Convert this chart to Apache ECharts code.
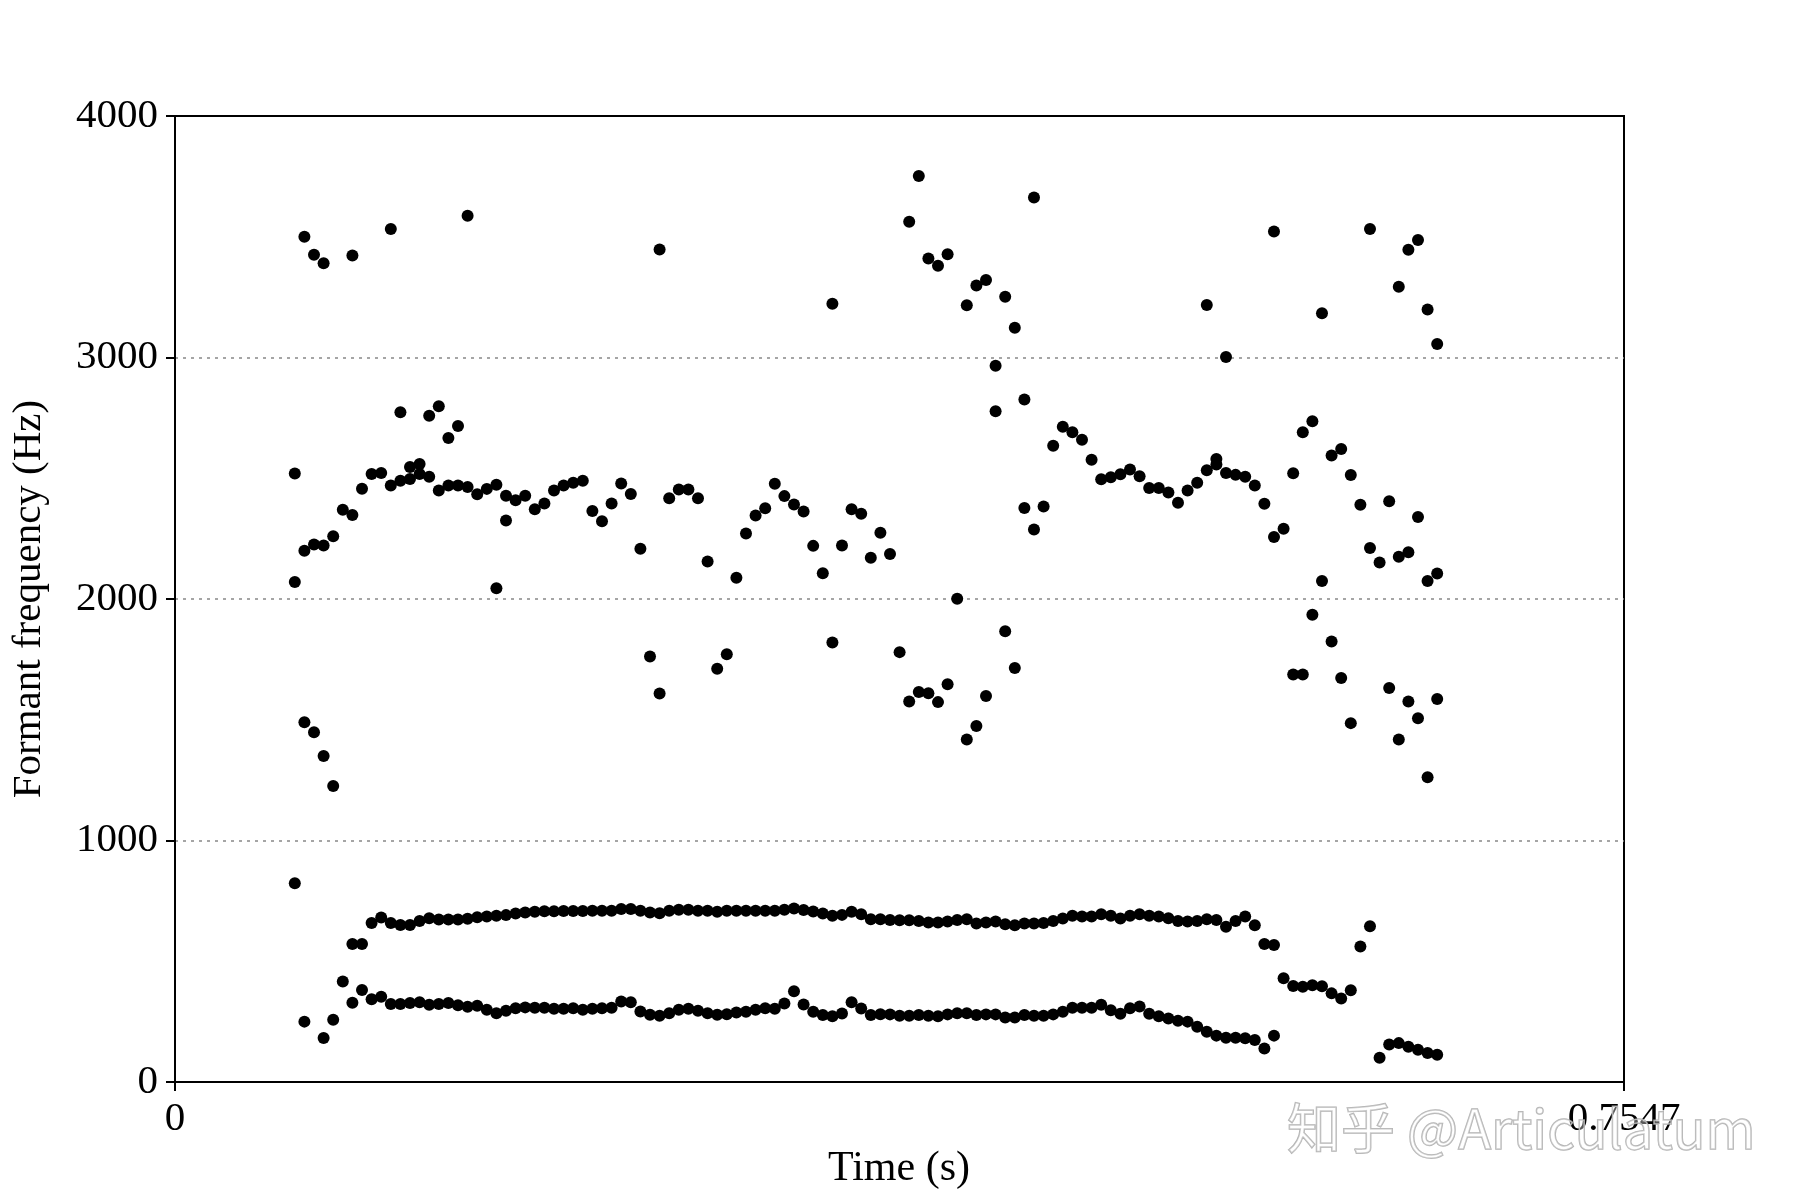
<!DOCTYPE html>
<html><head><meta charset="utf-8">
<script src="https://cdn.jsdelivr.net/npm/echarts@6/dist/echarts.min.js"></script>
<style>html,body{margin:0;padding:0;background:#fff}#c{width:1800px;height:1200px}</style>
</head><body><div id="c"></div>
<script>
// Frame times (s)
const times = [0.0624,0.0674,0.0724,0.0774,0.0824,0.0874,0.0924,0.0974,0.1024,0.1074,
0.1124,0.1174,0.1224,0.1274,0.1324,0.1374,0.1424,0.1474,0.1524,0.1574,
0.1624,0.1674,0.1724,0.1774,0.1824,0.1874,0.1924,0.1974,0.2024,0.2074,
0.2124,0.2174,0.2224,0.2274,0.2324,0.2374,0.2424,0.2474,0.2524,0.2574,
0.2624,0.2674,0.2724,0.2774,0.2824,0.2874,0.2924,0.2974,0.3024,0.3074,
0.3124,0.3174,0.3224,0.3274,0.3324,0.3374,0.3424,0.3474,0.3524,0.3574,
0.3624,0.3674,0.3724,0.3774,0.3824,0.3874,0.3924,0.3974,0.4024,0.4074,
0.4124,0.4174,0.4224,0.4274,0.4324,0.4374,0.4424,0.4474,0.4524,0.4574,
0.4624,0.4674,0.4724,0.4774,0.4824,0.4874,0.4924,0.4974,0.5024,0.5074,
0.5124,0.5174,0.5224,0.5274,0.5324,0.5374,0.5424,0.5474,0.5524,0.5574,
0.5624,0.5674,0.5724,0.5774,0.5824,0.5874,0.5924,0.5974,0.6024,0.6074,
0.6124,0.6174,0.6224,0.6274,0.6324,0.6374,0.6424,0.6474,0.6524,0.6574];

// Formant values (Hz), per frame, lowest first
const f1 = [823,250,1448,182,258,416,328,381,343,353,
323,323,327,330,320,323,327,318,312,316,
299,285,295,305,309,307,307,303,303,305,
299,303,305,307,333,330,292,278,274,285,
299,303,295,285,278,281,288,291,299,305,
303,325,376,321,291,277,272,284,330,304,
277,281,280,274,274,277,274,272,280,285,
285,277,280,280,267,267,277,274,274,280,
291,307,307,307,320,297,283,305,313,283,
272,263,254,250,229,208,192,183,183,181,
174,139,192,430,398,394,401,396,367,346,
380,561,645,100,155,161,146,134,120,113];

const f2 = [2070,1490,2226,1350,1226,2370,571,571,658,681,
658,650,650,667,678,673,673,673,676,682,
685,688,691,698,702,705,707,707,708,708,
708,709,709,709,716,716,709,702,699,709,
713,713,709,709,705,709,709,709,709,709,
709,713,718,712,706,698,688,692,705,695,
674,674,671,670,670,667,660,660,665,671,
674,656,660,665,653,649,656,656,658,667,
677,688,685,685,695,688,677,688,695,688,
685,678,667,665,667,674,671,643,667,685,
649,571,567,2291,1687,1687,1935,2075,1824,1673,
1486,2390,2211,2151,1631,1418,1576,1506,1262,1586];

const f3 = [2520,2200,3425,2222,2260,null,2348,2457,2518,2522,
2470,2490,2497,2518,2506,2449,2470,2470,2464,2434,
2456,2045,2325,2409,2428,2372,2395,2449,2470,2481,
2490,2364,2322,2395,2478,2435,2208,1762,1609,2417,
2453,2453,2417,2155,1711,1771,2088,2271,2346,2376,
2477,2426,2391,2362,2220,2107,1820,2222,2372,2353,
2171,2274,2186,1780,1576,1615,1610,1573,1647,2001,
1418,1474,1598,2777,1866,1714,2377,2288,2383,2635,
2713,2690,2659,2577,2496,2504,2517,2536,2508,2460,
2460,2441,2399,2449,2481,2533,2557,2522,2514,2506,
2470,2394,2257,null,2521,2690,2736,3183,2594,2621,
2513,null,3532,null,2405,2175,2194,2340,2075,2106];

const f4 = [null,3500,null,3390,null,null,3422,null,null,null,
3532,2773,2547,2559,2759,2798,2667,2716,3587,null,
null,2473,2428,null,null,null,null,null,null,null,
null,null,null,null,null,null,null,null,3447,null,
null,null,null,null,null,null,null,null,null,null,
null,null,null,null,null,null,3223,null,null,null,
null,null,null,null,3562,3752,3410,3380,3428,null,
3216,3298,3321,2966,3252,3123,2826,3663,null,null,
null,null,null,null,null,null,null,null,null,null,
null,null,null,null,null,3217,2580,3002,null,null,
null,null,3522,null,null,null,null,null,null,null,
null,null,null,null,null,3293,3446,3487,3199,3056];

const xTicks = [0, 0.7547];
const yTicks = [0, 1000, 2000, 3000, 4000];
const xTitle = 'Time (s)';
const yTitle = 'Formant frequency (Hz)';
const watermark = '知乎 @Articulatum';

const FONT = '"Liberation Serif","Times New Roman",Times,serif';
function pairs(arr){ const out=[]; arr.forEach((v,i)=>{ if(v!==null) out.push([times[i], v]); }); return out; }

const chart = echarts.init(document.getElementById('c'), null, {renderer:'canvas'});
const series = [f1,f2,f3,f4].map((a,k)=>({
  type:'scatter', name:'F'+(k+1), data:pairs(a), symbol:'circle', symbolSize:12,
  itemStyle:{color:'#000', opacity:1}, silent:true, animation:false
}));
chart.setOption({
  animation:false,
  backgroundColor:'#fff',
  grid:{left:175, right:176, top:116, bottom:118, show:true, borderColor:'#000', borderWidth:2, outerBoundsMode:'none'},
  xAxis:{type:'value', min:0, max:0.7547,
    axisLine:{show:true, lineStyle:{color:'#000', width:2}},
    axisTick:{show:true, customValues:xTicks, length:9, lineStyle:{color:'#000', width:2}},
    axisLabel:{show:true, customValues:xTicks, margin:17, color:'#000', fontFamily:FONT, fontSize:41,
      formatter:v=> v===0?'0':String(v)},
    splitLine:{show:false}},
  yAxis:{type:'value', min:0, max:4000, interval:1000,
    axisLine:{show:true, lineStyle:{color:'#000', width:2}},
    axisTick:{show:true, customValues:yTicks, length:9, lineStyle:{color:'#000', width:2}},
    axisLabel:{customValues:yTicks, margin:17, color:'#000', fontFamily:FONT, fontSize:41, formatter:v=>String(v)},
    splitLine:{show:true, showMinLine:false, showMaxLine:false, lineStyle:{color:'#888', width:1.5, type:[3,5]}}},
  series:series,
  graphic:[
    {type:'text', x:899, y:1169, style:{text:xTitle, align:'center', verticalAlign:'middle', font:'42px '+FONT, fill:'#000'}},
    {type:'text', x:29, y:599, rotation:Math.PI/2, style:{text:yTitle, align:'center', verticalAlign:'middle', font:'41px '+FONT, fill:'#000'}},
    {type:'text', x:1287, y:1128, z:100, style:{text:watermark, align:'left', verticalAlign:'middle', font:'54px "Noto Sans CJK SC","Noto Sans",sans-serif', fill:'rgba(255,255,255,0.35)', stroke:'rgba(170,170,170,0.9)', lineWidth:1.5}}
  ]
});
</script></body></html>
